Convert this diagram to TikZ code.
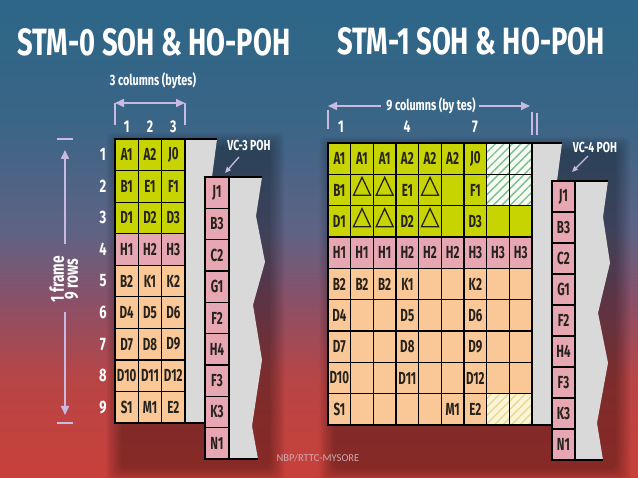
\documentclass[tikz,border=0pt]{standalone}
\usepackage{fontspec}
\setmainfont{Fira Sans}
\newfontfamily\cnd{Fira Sans}[FakeStretch=0.72]
\newfontfamily\cndc{Fira Sans}[FakeStretch=0.66]
\newfontfamily\wmk{Carlito}
\usetikzlibrary{arrows.meta,patterns.meta}
\definecolor{ylw}{RGB}{200,212,0}
\definecolor{pnk}{RGB}{230,166,178}
\definecolor{pch}{RGB}{250,200,150}
\definecolor{gry}{RGB}{217,217,217}
\definecolor{lav}{RGB}{200,186,226}
\definecolor{txt}{RGB}{38,34,30}
\definecolor{hgrn}{RGB}{120,190,140}
\definecolor{hwht}{RGB}{246,250,242}
\definecolor{hcrm}{RGB}{252,244,214}
\definecolor{hyel}{RGB}{230,214,140}
\definecolor{bgA}{RGB}{200,64,58}
\definecolor{bgB}{RGB}{184,69,69}
\definecolor{bgC}{RGB}{138,80,104}
\definecolor{bgD}{RGB}{94,99,133}
\definecolor{bgE}{RGB}{58,101,134}
\definecolor{bgF}{RGB}{44,102,136}
\pgfdeclareverticalshading{bgsh}{100bp}{color(0bp)=(bgA); color(25bp)=(bgA); color(35.25bp)=(bgB); color(43.6bp)=(bgC); color(50.9bp)=(bgD); color(62.4bp)=(bgE); color(75bp)=(bgF); color(100bp)=(bgF)}
\tikzset{
  cellbase/.style={draw=black, line width=1.2pt, inner sep=0pt, outer sep=0pt, text=txt,
    font=\cndc\bfseries\fontsize{17.5}{17.5}\selectfont},
  cellL/.style={cellbase, minimum width=23.33pt, minimum height=31.56pt},
  cellR/.style={cellbase, minimum width=22.67pt, minimum height=31.33pt},
  pohL/.style={cellbase, fill=pnk, minimum width=24pt, minimum height=31.33pt},
  pohR/.style={cellbase, fill=pnk, minimum width=23pt, minimum height=31pt},
  ttl/.style={text=white, font=\cnd\bfseries\fontsize{38}{38}\selectfont, inner sep=0pt},
  wlbl/.style={text=white, font=\cnd\bfseries\fontsize{15}{15}\selectfont, inner sep=0pt},
  rowlbl/.style={text=white, font=\cnd\bfseries\fontsize{18}{18}\selectfont, inner sep=0pt},
  collbl/.style={text=white, font=\cnd\bfseries\fontsize{17}{17}\selectfont, inner sep=0pt},
  blk/.style={black, line width=1.5pt},
  lavline/.style={lav, line width=1.6pt},
  lavarr/.style={lav, line width=1.6pt, -{Triangle[length=9pt,width=8pt]}},
  lavdbl/.style={lav, line width=1.6pt, {Triangle[length=9pt,width=8pt]}-{Triangle[length=9pt,width=8pt]}},
  tri/.style={txt, line width=1.3pt, line join=miter},
}
\begin{document}
\begin{tikzpicture}[x=1pt,y=-1pt]
\useasboundingbox (0,0) rectangle (638,478);
\shade[shading=bgsh] (0,0) rectangle (638,478);

% soft shadows
\foreach \k in {0,...,9}{
  \fill[black, opacity=0.035, rounded corners=6pt] ({121-\k*1.6},{147-\k*1.6}) rectangle ({270+\k*1.6},{468+\k*1.6});
  \fill[black, opacity=0.035, rounded corners=6pt] ({334-\k*1.6},{151-\k*1.6}) rectangle ({616+\k*1.6},{469+\k*1.6});
}

% titles
\node[ttl] (t0) at (154,42) {STM-0 SOH \& HO-POH};
\node[ttl] (t1) at (471,41) {STM-1 SOH \& HO-POH};

% ===== left diagram =====
\node[wlbl] (c3) at (153,81) {3 columns (bytes)};
\coordinate (c3l) at (115,103);
\coordinate (c3r) at (185,103);
\coordinate (c3lb) at (115,125);
\coordinate (c3rb) at (185,125);
\draw[lavdbl] (c3l) -- (c3r);
\draw[lavline] (c3l) -- (c3lb);
\draw[lavline] (c3r) -- (c3rb);
\node[collbl] (h1) at (126.67,127) {1};
\node[collbl] (h2) at (150,127) {2};
\node[collbl] (h3) at (173.33,127) {3};

% frame arrow
\coordinate (fa) at (57,139);
\coordinate (fb) at (73,139);
\coordinate (fc) at (57,423);
\coordinate (fd) at (73,423);
\draw[lavline] (fa) -- (fb);
\draw[lavline] (fc) -- (fd);
\node[rotate=90, align=center, text=white, font=\cnd\bfseries\fontsize{19}{14}\selectfont, inner sep=0pt] (fr) at (64,279) {1 frame\\9 rows};
\coordinate (fu1) at (65,244);
\coordinate (fu2) at (65,150);
\coordinate (fl1) at (65,312);
\coordinate (fl2) at (65,415);
\draw[lavarr] (fu1) -- (fu2);
\draw[lavarr] (fl1) -- (fl2);

% gray panels
\fill[gry] (185,139) -- (217,139) -- (212,177) -- (212,423) -- (185,423) -- cycle;
\fill[gry] (229,177) -- (262,177) -- (256,216) -- (265,262) -- (253,305) -- (262,360) -- (252,426) -- (258,459) -- (229,459) -- cycle;
\draw[blk] (185,139) -- (217,139);
\draw[blk] (205,177) -- (262,177);
\draw[blk] (185,423) -- (205,423);
\draw[blk] (205,459) -- (258,459);

% grid
\foreach \r/\cl/\a/\b/\c in {1/ylw/A1/A2/J0,2/ylw/B1/E1/F1,3/ylw/D1/D2/D3,4/pnk/H1/H2/H3,5/pch/B2/K1/K2,6/pch/D4/D5/D6,7/pch/D7/D8/D9,8/pch/D10/D11/D12,9/pch/S1/M1/E2}{
  \pgfmathsetmacro\yy{139+31.56*(\r-0.5)}
  \node[cellL, fill=\cl] (L\r-1) at (126.67,\yy) {\a};
  \node[cellL, fill=\cl] (L\r-2) at (150,\yy) {\b};
  \node[cellL, fill=\cl] (L\r-3) at (173.33,\yy) {\c};
  \node[rowlbl] (Ln\r) at (103,\yy) {\r};
}

% POH column
\foreach \t [count=\i] in {J1,B3,C2,G1,F2,H4,F3,K3,N1}{
  \node[pohL] (PL\i) at (217,{177+31.33*(\i-0.5)}) {\t};
}
\node[wlbl, font=\cnd\bfseries\fontsize{14.5}{14.5}\selectfont] (vc3) at (249,145) {VC-3 POH};
\coordinate (vc3a) at (239,157);
\coordinate (vc3b) at (225,173);
\draw[lav, line width=1.3pt, -{Triangle[length=6pt,width=5pt]}] (vc3a) -- (vc3b);

% ===== right diagram =====
\node[wlbl] (c9) at (431,106) {9 columns (by tes)};
\coordinate (c9l) at (328,106);
\coordinate (c9la) at (381,106);
\coordinate (c9r) at (530,106);
\coordinate (c9ra) at (479,106);
\draw[lavarr] (c9la) -- (c9l);
\draw[lavarr] (c9ra) -- (c9r);
\coordinate (k1a) at (328,110);
\coordinate (k1b) at (328,129);
\coordinate (k2a) at (532,112);
\coordinate (k2b) at (532,135);
\coordinate (k3a) at (537,113);
\coordinate (k3b) at (537,135);
\draw[lavline] (k1a) -- (k1b);
\draw[lavline] (k2a) -- (k2b);
\draw[lavline] (k3a) -- (k3b);
\node[collbl] (g1) at (341,127) {1};
\node[collbl] (g4) at (407,127) {4};
\node[collbl] (g7) at (475,127) {7};

% gray panels
\fill[gry] (532,143) -- (562,143) -- (557,181) -- (557,425) -- (532,425) -- cycle;
\fill[gry] (575,181) -- (608,181) -- (603,217) -- (610,263) -- (598,313) -- (608,363) -- (597,423) -- (603,460) -- (575,460) -- cycle;
\draw[blk] (532,143) -- (562,143);
\draw[blk] (552,181) -- (608,181);
\draw[blk] (532,425) -- (552,425);
\draw[blk] (552,460) -- (603,460);

% grid
\foreach \r/\cl/\lst in {1/ylw/{A1,A1,A1,A2,A2,A2,J0,{},{}},
  2/ylw/{B1,{},{},E1,{},{},F1,{},{}},
  3/ylw/{D1,{},{},D2,{},{},D3,{},{}},
  4/pnk/{H1,H1,H1,H2,H2,H2,H3,H3,H3},
  5/pch/{B2,B2,B2,K1,{},{},K2,{},{}},
  6/pch/{D4,{},{},D5,{},{},D6,{},{}},
  7/pch/{D7,{},{},D8,{},{},D9,{},{}},
  8/pch/{D10,{},{},D11,{},{},D12,{},{}},
  9/pch/{S1,{},{},{},{},M1,E2,{},{}}}{
  \pgfmathsetmacro\yy{143+31.33*(\r-0.5)}
  \foreach \t [count=\c] in \lst {
    \node[cellR, fill=\cl] (R\r-\c) at ({328+22.67*(\c-0.5)},\yy) {\t};
  }
}
% hatched cells
\foreach \n in {R1-8,R1-9,R2-8,R2-9}{
  \fill[hwht] (\n.north west) rectangle (\n.south east);
  \fill[pattern={Lines[angle=45,distance=6pt,line width=1.3pt]}, pattern color=hgrn] (\n.north west) rectangle (\n.south east);
  \draw[black, line width=1.2pt] (\n.north west) rectangle (\n.south east);
}
\foreach \n in {R9-8,R9-9}{
  \fill[hcrm] (\n.north west) rectangle (\n.south east);
  \fill[pattern={Lines[angle=45,distance=6pt,line width=1.3pt]}, pattern color=hyel] (\n.north west) rectangle (\n.south east);
  \draw[black, line width=1.2pt] (\n.north west) rectangle (\n.south east);
}
% triangles
\foreach \r in {2,3}{
  \foreach \c in {2,3,5}{
    \pgfmathsetmacro\tx{328+22.67*(\c-0.5)}
    \pgfmathsetmacro\ty{143+31.33*(\r-1)}
    \draw[tri] ({\tx},{\ty+3}) -- ({\tx+8.5},{\ty+21}) -- ({\tx-8.5},{\ty+21}) -- cycle;
  }
}

% POH column
\foreach \t [count=\i] in {J1,B3,C2,G1,F2,H4,F3,K3,N1}{
  \node[pohR] (PR\i) at (563.5,{181+31*(\i-0.5)}) {\t};
}
\node[wlbl, font=\cnd\bfseries\fontsize{14.5}{14.5}\selectfont] (vc4) at (595,147) {VC-4 POH};
\coordinate (vc4a) at (588,156);
\coordinate (vc4b) at (572,172);
\draw[lav, line width=1.3pt, -{Triangle[length=6pt,width=5pt]}] (vc4a) -- (vc4b);

% watermark
\node[text={rgb,255:red,205;green,170;blue,178}, font=\wmk\fontsize{10.5}{10.5}\selectfont, inner sep=0pt] (wm) at (318,458) {NBP/RTTC-MYSORE};
\end{tikzpicture}
\end{document}
